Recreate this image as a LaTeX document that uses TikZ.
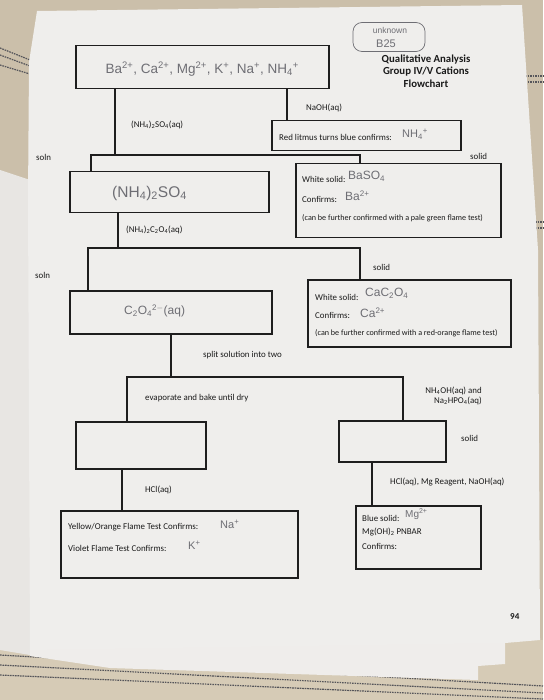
\documentclass[tikz,border=0pt]{standalone}
\usepackage{fontspec}
\setmainfont{Carlito}
\newfontfamily\hand{Liberation Sans}
\definecolor{bgbeige}{HTML}{CBBFAA}
\definecolor{bgbeige2}{HTML}{D6CBB6}
\definecolor{paper}{HTML}{EFEEEC}
\definecolor{under}{HTML}{E8E6E3}
\definecolor{boxc}{HTML}{1E1E1E}
\definecolor{ink}{HTML}{1A1A1A}
\definecolor{pencil}{HTML}{6E6E74}
\definecolor{stitch}{HTML}{55555A}
\begin{document}
\begin{tikzpicture}[x=1pt,y=-1pt,
  box/.style={draw=boxc, line width=1.5pt, inner sep=0pt, anchor=north west},
  wire/.style={draw=boxc, line width=1.5pt},
  lbl/.style={font=\fontsize{8.9}{10.4}\selectfont, text=ink, inner sep=0pt, anchor=west},
  small/.style={font=\fontsize{8.1}{9.4}\selectfont, text=ink, inner sep=0pt, anchor=west},
  hw/.style={font=\hand\fontsize{11}{13}\selectfont, text=pencil, inner sep=0pt, anchor=west},
  title/.style={font=\bfseries\fontsize{10.8}{12.5}\selectfont, text=ink, inner sep=0pt, align=center},
  stripe/.style={draw=stitch, line width=1.2pt, dash pattern=on 1.6pt off 0.9pt}
]
\useasboundingbox (0,0) rectangle (543,700);
% ---- photo background ----
\fill[bgbeige] (0,0) rectangle (543,700);
\fill[bgbeige2] (0,640) rectangle (543,700);
\draw[stripe] (0,655) -- (543,686);
\draw[stripe] (0,665) -- (543,693);
\draw[stripe] (0,675) -- (543,699);
\draw[stripe] (0,48) -- (30,60);
\draw[stripe] (0,55) -- (30,66);
\draw[stripe] (0,65) -- (30,74);
\draw[stripe] (525,76) -- (543,76);
\draw[stripe] (525,82) -- (543,82);
\draw[stripe] (530,222) -- (543,222);
\draw[stripe] (530,228) -- (543,228);
% under sheets
\fill[under] (0,170) -- (30,180) -- (30,655) -- (0,650) -- cycle;
\fill[under!70!white] (30,640) -- (505,636) -- (505,664) -- (478,666) -- (478,680) -- (110,668) -- (30,656) -- cycle;
% main sheet
\fill[paper] (37,11) -- (522,5) -- (538,250) -- (540,640) -- (505,643) -- (30,650) -- (28,200) -- (29,62) -- cycle;

% ---- boxes ----
\node[box, minimum width=253pt, minimum height=43pt] (top) at (75,45) {};
\node[box, minimum width=189pt, minimum height=30pt] (litmus) at (271,120) {};
\node[box, minimum width=199pt, minimum height=41pt] (sulf) at (69,171) {};
\node[box, minimum width=205pt, minimum height=74pt] (baso) at (295,163) {};
\node[box, minimum width=202pt, minimum height=43pt] (cox) at (69,290) {};
\node[box, minimum width=203pt, minimum height=67pt] (caox) at (307,279) {};
\node[box, minimum width=130pt, minimum height=47pt] (evap) at (75,421) {};
\node[box, minimum width=107pt, minimum height=41pt] (solid) at (338,420) {};
\node[box, minimum width=237pt, minimum height=67pt] (flame) at (60,510) {};
\node[box, minimum width=125pt, minimum height=63pt] (mgbox) at (355,505) {};

% ---- connectors ----
\coordinate (j1) at (115,155); \coordinate (j1l) at (91,155); \coordinate (j1r) at (360,155);
\draw[wire] (top.south -| j1) -- (j1);
\draw[wire] (sulf.north -| j1l) -- (j1l) -- (j1r) -- (baso.north -| j1r);
\coordinate (n1) at (287,100);
\draw[wire] (top.south -| n1) -- (litmus.north -| n1);
\coordinate (j2) at (118,248); \coordinate (j2l) at (88,248); \coordinate (j2r) at (360,248);
\draw[wire] (sulf.south -| j2) -- (j2);
\draw[wire] (cox.north -| j2l) -- (j2l) -- (j2r) -- (caox.north -| j2r);
\coordinate (j3) at (171,377); \coordinate (j3l) at (127,377); \coordinate (j3r) at (403,377);
\draw[wire] (cox.south -| j3) -- (j3);
\draw[wire] (evap.north -| j3l) -- (j3l) -- (j3r) -- (solid.north -| j3r);
\coordinate (k1) at (122,490);
\draw[wire] (evap.south -| k1) -- (flame.north -| k1);
\coordinate (k2) at (372,480);
\draw[wire] (solid.south -| k2) -- (mgbox.north -| k2);

% ---- title and unknown ----
\node[title] (ttl) at (426,71) {Qualitative Analysis\\Group IV/V Cations\\Flowchart};
\node[draw=pencil, line width=0.7pt, rounded corners=9pt, minimum width=72pt, minimum height=29pt] (unk) at (389,37) {};
\node[font=\hand\fontsize{8.5}{9}\selectfont, text=pencil, inner sep=0pt] (unk1) at (390,30) {unknown};
\node[font=\hand\fontsize{11}{12}\selectfont, text=pencil, inner sep=0pt] (unk2) at (386,44) {B25};

% ---- handwritten entries ----
\node[font=\hand\fontsize{13.5}{15}\selectfont, text=pencil, inner sep=0pt] (ions) at ([yshift=-2pt]top.center) {Ba\textsuperscript{2+}, Ca\textsuperscript{2+}, Mg\textsuperscript{2+}, K\textsuperscript{+}, Na\textsuperscript{+}, NH\textsubscript{4}\textsuperscript{+}};
\node[hw] (h1) at (402,134) {NH\textsubscript{4}\textsuperscript{+}};
\node[hw, font=\hand\fontsize{15.5}{17}\selectfont] (h2) at (112,193) {(NH\textsubscript{4})\textsubscript{2}SO\textsubscript{4}};
\node[hw, font=\hand\fontsize{12}{14}\selectfont] (h3) at (348,176) {BaSO\textsubscript{4}};
\node[hw, font=\hand\fontsize{12}{14}\selectfont] (h4) at (345,196) {Ba\textsuperscript{2+}};
\node[hw, font=\hand\fontsize{12}{14}\selectfont] (h5) at (124,311) {C\textsubscript{2}O\textsubscript{4}\textsuperscript{2$-$}(aq)};
\node[hw, font=\hand\fontsize{12}{14}\selectfont] (h6) at (365,293) {CaC\textsubscript{2}O\textsubscript{4}};
\node[hw, font=\hand\fontsize{12}{14}\selectfont] (h7) at (360,313) {Ca\textsuperscript{2+}};
\node[hw] (h8) at (220,524) {Na\textsuperscript{+}};
\node[hw] (h9) at (188,545) {K\textsuperscript{+}};
\node[hw, font=\hand\fontsize{10}{11}\selectfont] (h10) at (405,514) {Mg\textsuperscript{2+}};

% ---- printed labels ----
\node[lbl] (l1) at (306,108) {NaOH(aq)};
\node[lbl] (l2) at (131,125) {(NH\textsubscript{4})\textsubscript{2}SO\textsubscript{4}(aq)};
\node[lbl] (l3) at (279,137) {Red litmus turns blue confirms:};
\node[lbl] (l4) at (36,157) {soln};
\node[lbl] (l5) at (470,156) {solid};
\node[lbl] (l6) at (302,179) {White solid:};
\node[lbl] (l7) at (302,199) {Confirms:};
\node[small] (l8) at (302,218) {(can be further confirmed with a pale green flame test)};
\node[lbl] (l9) at (126,230) {(NH\textsubscript{4})\textsubscript{2}C\textsubscript{2}O\textsubscript{4}(aq)};
\node[lbl] (l10) at (35,275) {soln};
\node[lbl] (l11) at (373,267) {solid};
\node[lbl] (l12) at (315,297) {White solid:};
\node[lbl] (l13) at (315,315) {Confirms:};
\node[small] (l14) at (315,333) {(can be further confirmed with a red-orange flame test)};
\node[lbl] (l15) at (203,355) {split solution into two};
\node[lbl] (l16) at (145,398) {evaporate and bake until dry};
\node[lbl, anchor=east, align=right] (l17) at (482,396) {NH\textsubscript{4}OH(aq) and\\Na\textsubscript{2}HPO\textsubscript{4}(aq)};
\node[lbl] (l18) at (461,438) {solid};
\node[lbl] (l19) at (145,490) {HCl(aq)};
\node[lbl] (l20) at (390,482) {HCl(aq), Mg Reagent, NaOH(aq)};
\node[lbl] (l21) at (68,527) {Yellow/Orange Flame Test Confirms:};
\node[lbl] (l22) at (68,548) {Violet Flame Test Confirms:};
\node[lbl] (l23) at (362,518) {Blue solid:};
\node[lbl] (l24) at (362,532) {Mg(OH)\textsubscript{2} PNBAR};
\node[lbl] (l25) at (362,546) {Confirms:};
\node[lbl, font=\bfseries\fontsize{9}{10}\selectfont] (pg) at (510,617) {94};
\end{tikzpicture}
\end{document}
